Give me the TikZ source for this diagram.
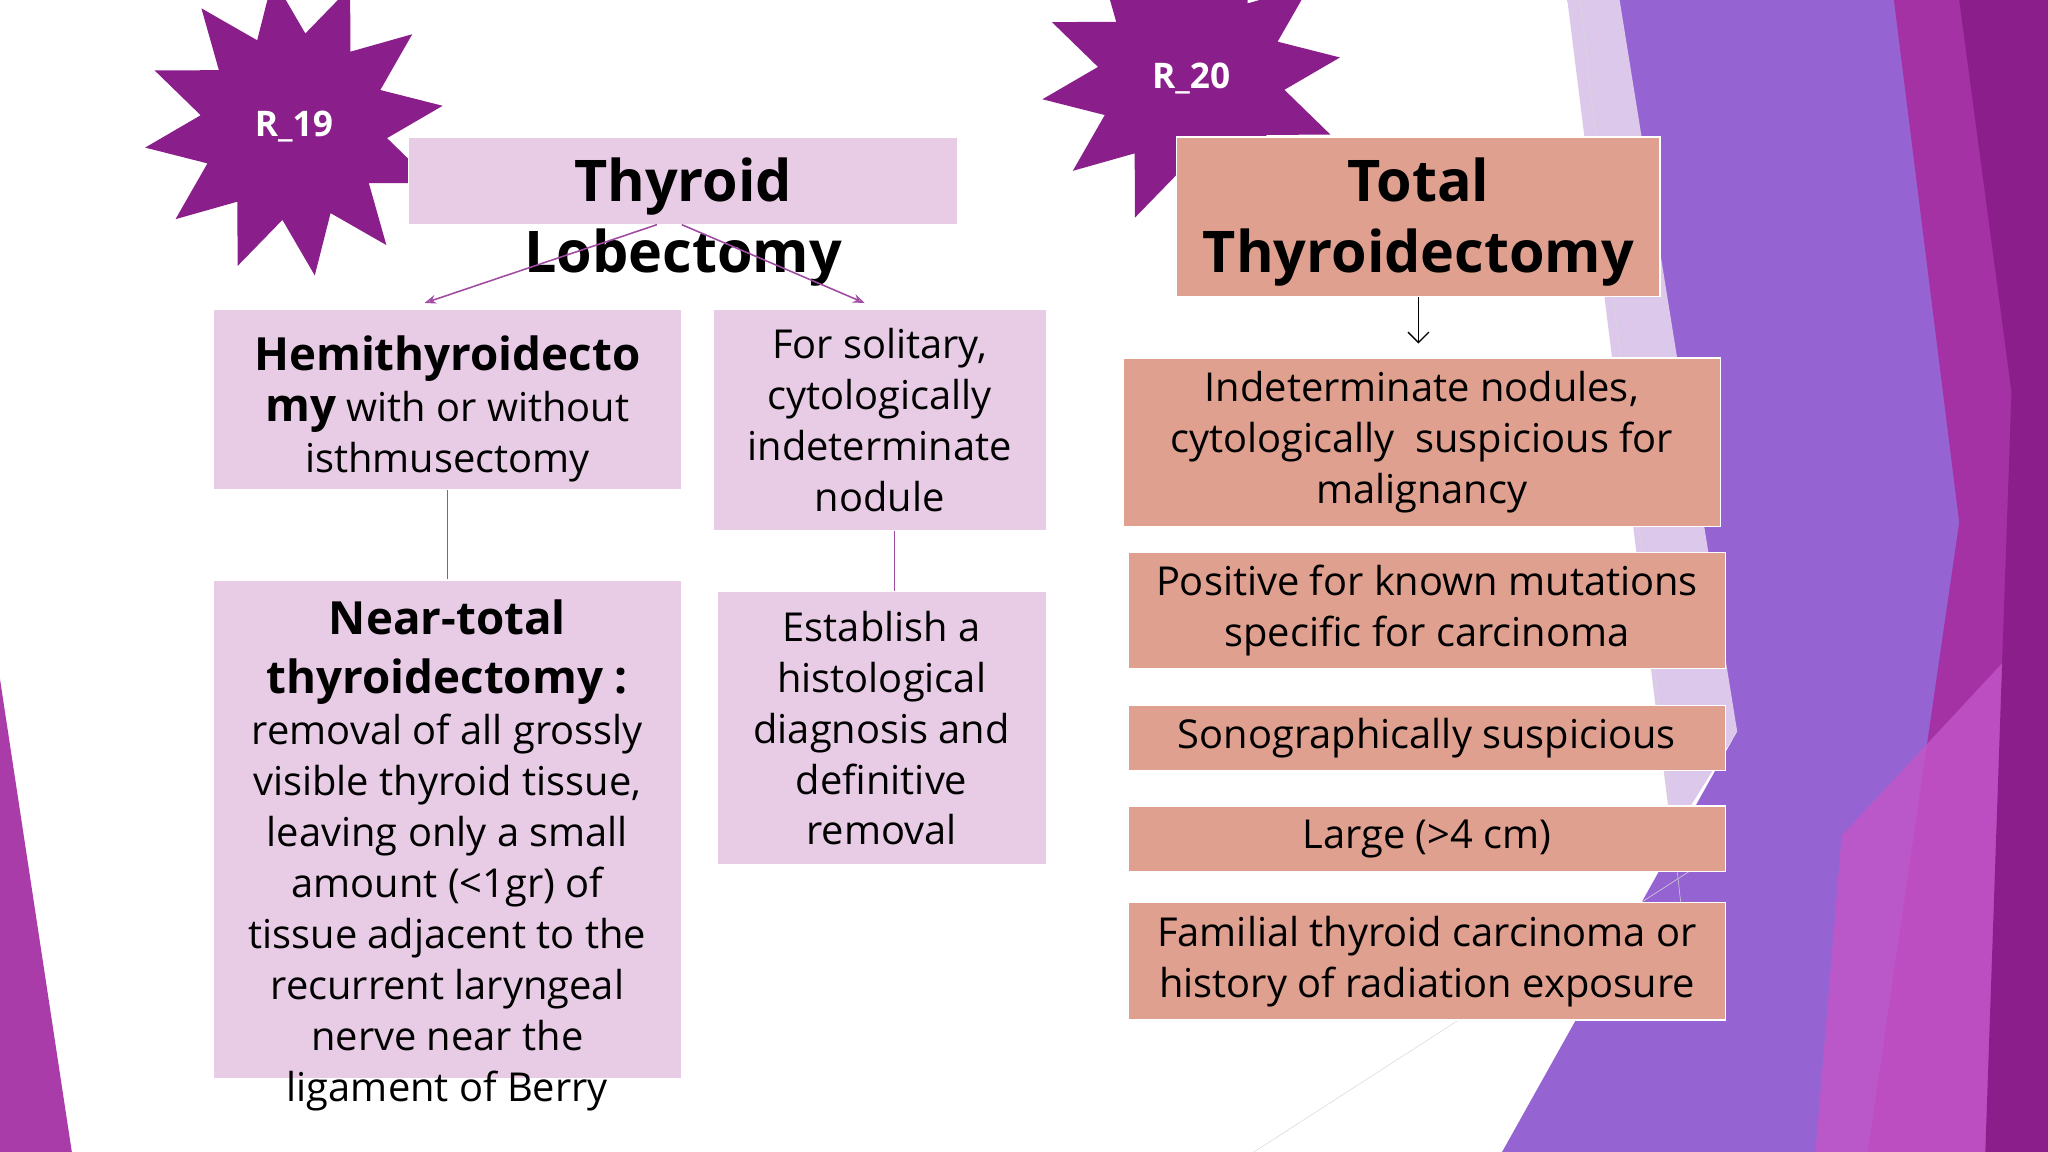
\documentclass[tikz,border=0pt]{standalone}
\usepackage{fontspec}
\setmainfont{Open Sans}
\usetikzlibrary{shapes.geometric,arrows.meta}
\definecolor{pinkbox}{HTML}{E8CCE6}
\definecolor{salmon}{HTML}{DFA090}
\definecolor{starc}{HTML}{8A1F8C}
\newcommand{\bigb}[1]{{\fontsize{35}{46}\selectfont\bfseries #1}}
\tikzset{
  pbox/.style={fill=pinkbox,draw=white,line width=1pt,minimum width=#1,inner sep=0pt},
  sbox/.style={fill=salmon,draw=white,line width=1pt,minimum width=#1,inner sep=0pt},
  body/.style={font=\fontsize{30.5}{39}\selectfont,align=center,inner sep=0pt},
  ttl/.style={font=\fontsize{44}{55}\selectfont\bfseries,align=center,inner sep=0pt},
  starn/.style={star,star points=12,star point ratio=1.6,fill=starc,text=white,font=\fontsize{27}{30}\selectfont\bfseries,inner sep=0pt},
  conn/.style={draw=starc!80,line width=1.2pt},
}
\begin{document}
\begin{tikzpicture}[x=1pt,y=-1pt]
\useasboundingbox (0,0) rectangle (1568,882);
\fill[white] (0,0) rectangle (1568,882);
\fill[color={rgb,255:red,150;green,100;blue,210}] (1200,0)--(1568,0)--(1568,882)--(1150,882)--(1330,560)--cycle;
\fill[color={rgb,255:red,220;green,200;blue,235}] (1200,0)--(1240,0)--(1330,560)--(1280,640)--cycle;
\fill[color={rgb,255:red,165;green,50;blue,165}] (1450,0)--(1568,0)--(1568,882)--(1430,882)--(1500,400)--cycle;
\fill[color={rgb,255:red,195;green,85;blue,200},opacity=0.8] (1410,640)--(1568,470)--(1568,882)--(1390,882)--cycle;
\fill[color={rgb,255:red,140;green,30;blue,140}] (1500,0)--(1568,0)--(1568,882)--(1520,882)--(1540,300)--cycle;
\fill[color={rgb,255:red,170;green,60;blue,170}] (0,520)--(55,882)--(0,882)--cycle;
\draw[gray!30] (1210,0)--(1290,720);
\draw[gray!30] (960,882)--(1320,650);
\node[starn,minimum size=230pt,rotate=8] (s1) at (225,97) {};
\node[text=white,font=\fontsize{27}{30}\selectfont\bfseries] at (s1.center) {R\_19};
\node[starn,minimum size=230pt,rotate=8] (s2) at (912,60) {};
\node[text=white,font=\fontsize{27}{30}\selectfont\bfseries] at (s2.center) {R\_20};
\node[pbox=420pt,minimum height=67pt] (tl) at (523,138.5) {};
\node[ttl] at (523,170) {Thyroid\\Lobectomy};
\node[pbox=359pt,minimum height=138pt] (hemi) at (342.5,306) {};
\node[body] at (342.5,313) {\bigb{Hemithyroidecto}\\\bigb{my} with or without\\isthmusectomy};
\node[pbox=255pt,minimum height=169pt] (sol) at (673.5,321.5) {};
\node[body] at (sol.center) {For solitary,\\cytologically\\indeterminate\\nodule};
\node[pbox=359pt,minimum height=382pt] (near) at (342.5,635) {};
\node[body] at (342.5,655) {\bigb{Near-total}\\[6pt]\bigb{thyroidectomy :}\\removal of all grossly\\visible thyroid tissue,\\leaving only a small\\amount (<1gr) of\\tissue adjacent to the\\recurrent laryngeal\\nerve near the\\ligament of Berry};
\node[pbox=252pt,minimum height=209pt] (est) at (675,557.5) {};
\node[body] at (est.center) {Establish a\\histological\\diagnosis and\\definitive\\removal};
\coordinate (la) at (325,232);
\coordinate (ra) at (662,232);
\coordinate (lo) at (503,172);
\coordinate (ro) at (522,172);
\draw[conn,-{Stealth[length=9pt,open]}] (lo)--(la);
\draw[conn,-{Stealth[length=9pt,open]}] (ro)--(ra);
\draw[conn] (hemi.south)--(near.north);
\draw[conn] (sol.south -| 685,0)--(est.north -| 685,0);
\node[sbox=370pt,minimum height=122pt] (tt) at (1086,166) {};
\node[ttl] at (1086,170) {Total\\Thyroidectomy};
\node[sbox=457pt,minimum height=129pt] (b1) at (1088.5,338.5) {};
\node[body] at (b1.center) {Indeterminate nodules,\\cytologically\ \ suspicious for\\malignancy};
\node[sbox=457pt,minimum height=89pt] (b2) at (1092.5,467.5) {};
\node[body] at (b2.center) {Positive for known mutations\\specific for carcinoma};
\node[sbox=457pt,minimum height=50pt] (b3) at (1092.5,565) {};
\node[body] at (b3.center) {Sonographically suspicious};
\node[sbox=457pt,minimum height=50pt] (b4) at (1092.5,642) {};
\node[body] at (b4.center) {Large (>4 cm)};
\node[sbox=457pt,minimum height=90pt] (b5) at (1092.5,736) {};
\node[body] at (b5.center) {Familial thyroid carcinoma or\\history of radiation exposure};
\coordinate (ta) at (1086,263);
\draw[-{Straight Barb[length=8pt]},line width=1pt] (tt.south)--(ta);
\end{tikzpicture}
\end{document}
